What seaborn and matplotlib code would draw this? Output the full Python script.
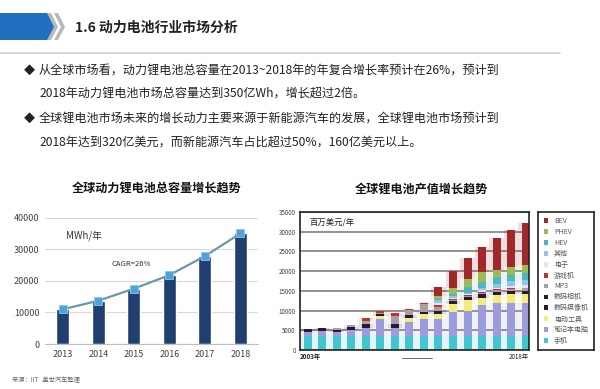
import matplotlib
matplotlib.use('Agg')
import matplotlib.pyplot as plt
from matplotlib.patches import Polygon
import numpy as np
import pandas as pd
import seaborn as sns

# ---- left chart: global power li-battery capacity (MWh/year)
cap_years = ['2013', '2014', '2015', '2016', '2017', '2018']
cap_mwh = [11000, 13700, 17500, 21800, 27800, 35000]

# ---- right chart: global li-battery output value (million USD/year), stacked
val_years = list(range(2003, 2019))
phone = [3500, 3500, 3500, 3500, 3500, 3500, 3500, 3500, 3500, 3500, 3600, 3600, 3600, 3600, 3600, 3600]
notebook = [1000, 1400, 1000, 1600, 2200, 4400, 2200, 3700, 4400, 4300, 6100, 6400, 7700, 8200, 8300, 8400]
tools = [0, 0, 0, 0, 0, 700, 0, 900, 1200, 1400, 2000, 2700, 2000, 2200, 2300, 2200]
camcorder = [300, 300, 200, 300, 400, 300, 400, 300, 300, 300, 400, 400, 500, 500, 500, 500]
camera = [400, 400, 300, 400, 500, 300, 500, 400, 300, 300, 300, 300, 300, 300, 300, 300]
mp3 = [0, 0, 600, 600, 800, 300, 2000, 1400, 1900, 1100, 300, 300, 400, 400, 500, 600]
game = [0, 0, 0, 0, 600, 500, 700, 300, 300, 400, 200, 200, 300, 200, 200, 200]
elec = [0, 0, 0, 0, 0, 0, 0, 0, 400, 600, 200, 300, 300, 400, 500, 600]
other = [0, 0, 0, 0, 0, 0, 0, 0, 0, 700, 500, 300, 700, 1000, 1200, 1300]
hev = [0, 0, 0, 0, 0, 0, 0, 0, 0, 400, 700, 1500, 1500, 1600, 1700, 1800]
phev = [0, 0, 0, 0, 0, 0, 0, 0, 0, 800, 1500, 2000, 2500, 1800, 1900, 2000]
bev = [0, 0, 0, 0, 0, 0, 0, 0, 0, 2200, 4200, 5300, 6200, 8100, 9500, 10800]

seg_names = ['手机', '笔记本电脑', '电动工具', '数码摄像机', '数码相机', 'MP3',
             '游戏机', '电子', '其他', 'HEV', 'PHEV', 'BEV']
seg_values = [phone, notebook, tools, camcorder, camera, mp3,
              game, elec, other, hev, phev, bev]
seg_colors = ['#3FC6CF', '#9C9CDC', '#F3EC7A', '#2A1A26', '#1E1B4B', '#A8A0A0',
              '#C9302C', '#E4E4F2', '#8EC6E6', '#4DB6BF', '#9BBB59', '#A0282A']

bullets = [
    '从全球市场看，动力锂电池总容量在2013~2018年的年复合增长率预计在26%，预计到',
    '2018年动力锂电池市场总容量达到350亿Wh，增长超过2倍。',
    '全球锂电池市场未来的增长动力主要来源于新能源汽车的发展，全球锂电池市场预计到',
    '2018年达到320亿美元，而新能源汽车占比超过50%，160亿美元以上。',
]

sns.set_style('white')
plt.rcParams['font.family'] = ['Noto Sans CJK SC', 'DejaVu Sans']

W, H = 600, 389
fig = plt.figure(figsize=(6, 3.89), dpi=100)
fig.patch.set_facecolor('white')


def fx(px):
    return px / W


def fy(py):
    return 1 - py / H


# ---- header banner
fig.patches.append(Polygon([(fx(0), fy(13)), (fx(49), fy(13)), (fx(55), fy(27)),
                            (fx(49), fy(40)), (fx(0), fy(40))],
                           closed=True, transform=fig.transFigure,
                           facecolor='#2170C0', edgecolor='none'))
for off in (0, 7):
    fig.patches.append(Polygon([(fx(47 + off), fy(13)), (fx(51 + off), fy(13)), (fx(58 + off), fy(27)),
                                (fx(51 + off), fy(40)), (fx(47 + off), fy(40)), (fx(54 + off), fy(27))],
                               closed=True, transform=fig.transFigure,
                               facecolor='#B8B8B8', edgecolor='none'))
fig.text(fx(75), fy(28), '1.6 动力电池行业市场分析', fontsize=10, weight='bold',
         color='#222222', va='center', ha='left')
fig.add_artist(plt.Line2D([fx(0), fx(560)], [fy(53), fy(53)], transform=fig.transFigure,
                          color='#D0D0D0', lw=1.2))

# ---- bullet text
line_y = [70, 93, 118, 142]
for i, (txt, yy) in enumerate(zip(bullets, line_y)):
    if i in (0, 2):
        fig.text(fx(24), fy(yy), '◆', fontsize=8, color='#222222', va='center', ha='left')
    fig.text(fx(39), fy(yy), txt, fontsize=8.7, color='#222222', va='center', ha='left')

# ---- left chart
ax1 = fig.add_axes([fx(45), fy(344), fx(258) - fx(45), fy(217.7) - fy(344)])
sns.barplot(x=cap_years, y=cap_mwh, color='#213F6E', saturation=1, width=0.38, ax=ax1)
sns.lineplot(x=np.arange(len(cap_years)), y=cap_mwh, color='#6C97A8', lw=1.6,
             marker='s', markersize=6, markerfacecolor='#4FA3D9',
             markeredgecolor='#8CC8EE', markeredgewidth=0.6, ax=ax1)
ax1.set_ylim(0, 40000)
ax1.set_xlim(-0.5, 5.5)
ax1.set_yticks(range(0, 40001, 10000))
ax1.yaxis.grid(True, color='#D9D9D9', lw=0.8)
ax1.set_axisbelow(True)
for s in ('top', 'right', 'left'):
    ax1.spines[s].set_visible(False)
ax1.spines['bottom'].set_color('#BFBFBF')
ax1.tick_params(axis='both', length=0, labelsize=6.5, labelcolor='#404040', pad=4)
ax1.set_xlabel('')
ax1.set_ylabel('')
ax1.text(0.1, 0.86, 'MWh/年', transform=ax1.transAxes, fontsize=7, color='#333333',
         va='center', ha='left')
ax1.text(0.31, 0.63, 'CAGR=26%', transform=ax1.transAxes, fontsize=5.5, color='#333333',
         va='center', ha='left')
fig.text(fx(157), fy(188), '全球动力锂电池总容量增长趋势', fontsize=8.7, weight='bold',
         color='#111111', ha='center', va='center')

# ---- right chart
rows = []
for name, vals in zip(seg_names, seg_values):
    for yr, v in zip(val_years, vals):
        rows.append({'year': yr, 'seg': name, 'value': v})
df = pd.DataFrame(rows)
pal = dict(zip(seg_names, seg_colors))

ax2 = fig.add_axes([fx(300), fy(350), fx(529) - fx(300), fy(212) - fy(350)])
# soft halo behind bars
sns.histplot(data=df, x='year', weights='value', hue='seg', hue_order=seg_names[::-1],
             palette=pal, multiple='stack', discrete=True, shrink=1.0, alpha=0.15,
             linewidth=0, legend=False, ax=ax2)
sns.histplot(data=df, x='year', weights='value', hue='seg', hue_order=seg_names[::-1],
             palette=pal, multiple='stack', discrete=True, shrink=0.55, alpha=1,
             linewidth=0, ax=ax2)
ax2.set_ylim(0, 35000)
ax2.set_xlim(2002.47, 2018.23)
ax2.set_yticks(range(0, 35001, 5000))
ax2.yaxis.grid(True, color='#7F7F7F', lw=1.2)
ax2.set_axisbelow(True)
for s in ax2.spines.values():
    s.set_color('#222222')
    s.set_linewidth(1.2)
ax2.set_xticks([])
ax2.tick_params(axis='y', length=0, labelsize=4.5, labelcolor='#404040', pad=3)
ax2.set_xlabel('')
ax2.set_ylabel('')
ax2.text(0.04, 0.93, '百万美元/年', transform=ax2.transAxes, fontsize=6, color='#222222',
         va='center', ha='left')

leg = ax2.get_legend()
handles = leg.legend_handles
labels = [t.get_text() for t in leg.get_texts()]
leg.remove()

lax = fig.add_axes([fx(538), fy(350), fx(594) - fx(538), fy(212) - fy(350)])
lax.set_xticks([])
lax.set_yticks([])
for s in lax.spines.values():
    s.set_color('#222222')
    s.set_linewidth(1.2)
lax.legend(handles, labels, loc='center left', frameon=False, fontsize=5,
           handlelength=0.7, handleheight=0.7, labelspacing=0.42, handletextpad=0.8,
           borderaxespad=0.4, labelcolor='#555555')

fig.text(fx(300), fy(357), '2003年', fontsize=4.5, weight='bold', color='#222222',
         ha='left', va='center')
fig.text(fx(519), fy(357), '2018年', fontsize=4.5, color='#222222', ha='center', va='center')
fig.add_artist(plt.Line2D([fx(402), fx(432)], [fy(358), fy(358)], transform=fig.transFigure,
                          color='#555555', lw=0.6))
fig.text(fx(421), fy(190), '全球锂电池产值增长趋势', fontsize=8.7, weight='bold',
         color='#111111', ha='center', va='center')

fig.text(fx(12), fy(380), '来源：IIT   盖世汽车整理', fontsize=4.5, color='#666666',
         ha='left', va='center')

fig.savefig('out.png', dpi=100)
